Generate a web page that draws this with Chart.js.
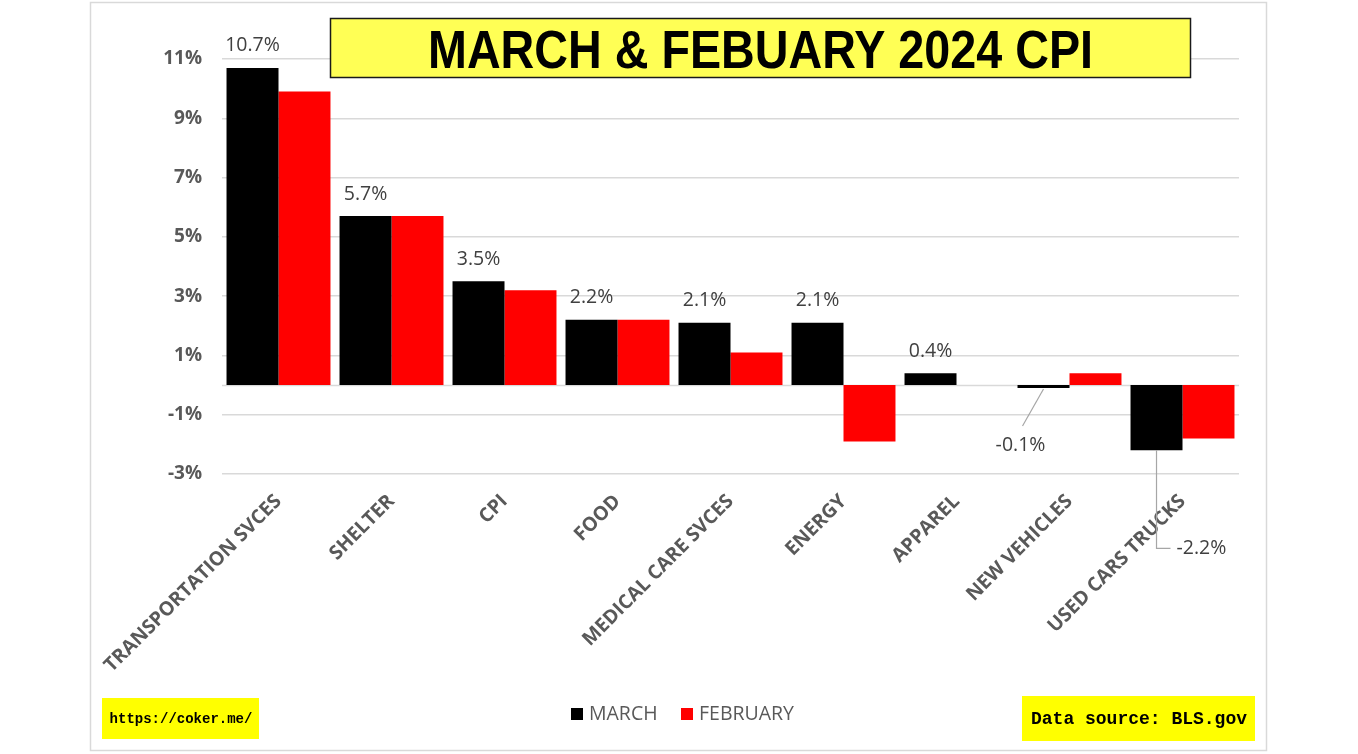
<!DOCTYPE html>
<html>
<head>
<meta charset="utf-8">
<script src="https://cdn.jsdelivr.net/npm/chart.js@4"></script>
<style>
html,body{margin:0;padding:0;background:#fff;}
#wrap{position:relative;width:1358px;height:754px;}
canvas{display:block;}
</style>
</head>
<body>
<div id="wrap"><canvas id="c" width="1358" height="754"></canvas></div>
<script>
const categories = ["TRANSPORTATION SVCES","SHELTER","CPI","FOOD","MEDICAL CARE SVCES","ENERGY","APPAREL","NEW VEHICLES","USED CARS TRUCKS"];
const marchValues = [10.7, 5.7, 3.5, 2.2, 2.1, 2.1, 0.4, -0.1, -2.2];
const februaryValues = [9.9, 5.7, 3.2, 2.2, 1.1, -1.9, 0.0, 0.4, -1.8];
const seriesNames = ["MARCH", "FEBRUARY"];
const yTicks = [-3, -1, 1, 3, 5, 7, 9, 11];
const titleText = "MARCH & FEBUARY 2024 CPI";
const leftNote = "https://coker.me/";
const rightNote = "Data source: BLS.gov";

const GRAY = '#595959';

const framePlugin = {
  id: 'frame',
  beforeDraw(chart) {
    const ctx = chart.ctx;
    ctx.save();
    ctx.fillStyle = '#fff';
    ctx.fillRect(0, 0, chart.width, chart.height);
    ctx.strokeStyle = '#d9d9d9';
    ctx.lineWidth = 1.5;
    ctx.strokeRect(90.5, 2.5, 1176, 748);
    ctx.restore();
  }
};

const zeroLinePlugin = {
  id: 'zeroLine',
  beforeDatasetsDraw(chart) {
    const ctx = chart.ctx, y = chart.scales.y.getPixelForValue(0), a = chart.chartArea;
    ctx.save();
    ctx.strokeStyle = '#d9d9d9';
    ctx.lineWidth = 1.5;
    ctx.beginPath();
    ctx.moveTo(a.left, Math.round(y) + 0.5);
    ctx.lineTo(a.right, Math.round(y) + 0.5);
    ctx.stroke();
    ctx.restore();
  }
};

const labelPlugin = {
  id: 'marchLabels',
  afterDatasetsDraw(chart) {
    const ctx = chart.ctx;
    const meta = chart.getDatasetMeta(0);
    const vals = chart.data.datasets[0].data;
    ctx.save();
    ctx.font = '19.5px "Open Sans"';
    ctx.fillStyle = '#404040';
    ctx.textAlign = 'center';
    ctx.textBaseline = 'middle';
    meta.data.forEach((bar, i) => {
      const v = vals[i];
      const txt = v.toFixed(1) + '%';
      if (v >= 0) {
        ctx.fillText(txt, bar.x, bar.y - 22);
      } else if (v > -1) {
        const by = bar.y;
        ctx.strokeStyle = '#a6a6a6';
        ctx.lineWidth = 1.2;
        ctx.beginPath();
        ctx.moveTo(bar.x, by + 1);
        ctx.lineTo(bar.x - 21, by + 38);
        ctx.stroke();
        ctx.fillText(txt, bar.x - 23, by + 57);
      } else {
        const by = bar.y;
        ctx.strokeStyle = '#a6a6a6';
        ctx.lineWidth = 1.2;
        ctx.beginPath();
        ctx.moveTo(bar.x, by);
        ctx.lineTo(bar.x, by + 98);
        ctx.lineTo(bar.x + 14, by + 98);
        ctx.stroke();
        ctx.textAlign = 'left';
        ctx.fillText(txt, bar.x + 20, by + 98);
        ctx.textAlign = 'center';
      }
    });
    ctx.restore();
  }
};

const decorPlugin = {
  id: 'decor',
  afterDraw(chart) {
    const ctx = chart.ctx;
    ctx.save();
    ctx.fillStyle = '#ffff55';
    ctx.fillRect(330, 18, 860, 59);
    ctx.strokeStyle = '#1a1a1a';
    ctx.lineWidth = 1.5;
    ctx.strokeRect(330.5, 18.5, 860, 59);
    ctx.font = 'bold 54px "Liberation Sans"';
    ctx.fillStyle = '#000';
    ctx.textBaseline = 'alphabetic';
    ctx.textAlign = 'left';
    const w = ctx.measureText(titleText).width;
    const target = 665;
    ctx.save();
    ctx.translate(428, 68);
    ctx.scale(target / w, 1);
    ctx.fillText(titleText, 0, 0);
    ctx.restore();

    ctx.fillStyle = '#ffff00';
    ctx.fillRect(102, 698, 157, 41);
    ctx.fillRect(1022, 696, 233, 45);
    ctx.fillStyle = '#000';
    ctx.textBaseline = 'middle';
    ctx.textAlign = 'center';
    ctx.font = 'bold 14px "Liberation Mono"';
    ctx.fillText(leftNote, 181, 719);
    ctx.font = 'bold 18px "Liberation Mono"';
    ctx.fillText(rightNote, 1139, 719);

    const ds = chart.data.datasets;
    ctx.font = '19.5px "Open Sans"';
    ctx.textAlign = 'left';
    const items = [{x: 571}, {x: 681}];
    ds.forEach((d, i) => {
      const x = items[i].x;
      ctx.fillStyle = d.backgroundColor;
      ctx.fillRect(x, 708, 12, 12);
      ctx.fillStyle = GRAY;
      ctx.fillText(d.label, x + 18, 714);
    });
    ctx.restore();
  }
};

new Chart(document.getElementById('c'), {
  type: 'bar',
  data: {
    labels: categories,
    datasets: [
      { label: seriesNames[0], data: marchValues, backgroundColor: '#000000', borderColor: '#000000', borderWidth: 0 },
      { label: seriesNames[1], data: februaryValues, backgroundColor: '#ff0000', borderColor: '#ff0000', borderWidth: 0 }
    ]
  },
  options: {
    responsive: false,
    animation: false,
    devicePixelRatio: 1,
    layout: { padding: { left: 0, right: 119, top: 59, bottom: 0 } },
    plugins: {
      legend: { display: false },
      tooltip: { enabled: false },
      title: { display: false }
    },
    datasets: { bar: { categoryPercentage: 0.92, barPercentage: 1.0 } },
    scales: {
      x: {
        grid: { display: false, drawTicks: false },
        border: { display: false },
        ticks: {
          minRotation: 45, maxRotation: 45, autoSkip: false,
          color: GRAY, padding: 16,
          font: { family: '"Open Sans"', weight: 'bold', size: 19.5 }
        },
        afterFit(scale) { scale.height = 280; }
      },
      y: {
        min: -3, max: 11,
        afterBuildTicks(scale) { scale.ticks = yTicks.map(v => ({ value: v })); },
        grid: { color: '#d9d9d9', lineWidth: 1.5, drawTicks: false },
        border: { display: false },
        ticks: {
          color: GRAY, padding: 20,
          font: { family: '"Open Sans"', weight: 'bold', size: 19 },
          callback: (v) => v + '%'
        },
        afterFit(scale) { scale.width = 222; }
      }
    }
  },
  plugins: [framePlugin, zeroLinePlugin, labelPlugin, decorPlugin]
});
</script>
</body>
</html>
